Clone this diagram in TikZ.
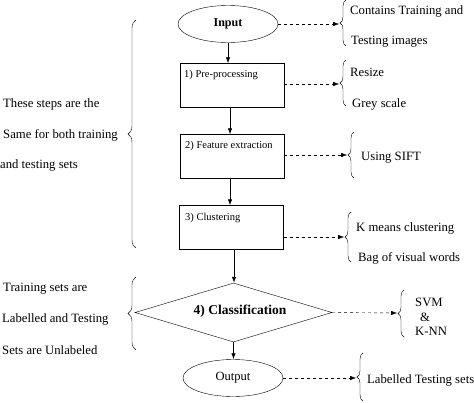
\documentclass[tikz,border=0pt]{standalone}
\usepackage{fontspec}
\setmainfont{Liberation Serif}
\usetikzlibrary{shapes.geometric,arrows.meta,decorations.pathreplacing}
\tikzset{
  flowbox/.style={draw, rectangle, minimum width=104pt, minimum height=44pt, inner sep=0pt},
  oval/.style={draw, ellipse, minimum width=100pt, minimum height=37pt, inner sep=0pt, font=\fontsize{12}{14}\selectfont\bfseries},
  boxtext/.style={anchor=west, inner sep=0pt, font=\fontsize{10.5}{12}\selectfont},
  note/.style={anchor=west, inner sep=0pt, font=\fontsize{12.7}{14}\selectfont},
  flowarrow/.style={thick, -{Latex[length=6pt,width=4.5pt]}},
  dasharrow/.style={dashed, -{Latex[length=6pt,width=4.5pt]}},
  rbrace/.style={decorate, decoration={brace, amplitude=6pt}},
  lbrace/.style={decorate, decoration={brace, amplitude=8pt}}
}
\begin{document}
\begin{tikzpicture}[x=1pt,y=-1pt]
\useasboundingbox (0,0) rectangle (474,402);
% main flow
\node[oval] (in) at (228,24) {Input};
\node[flowbox] (b1) at (232,85.5) {};
\node[boxtext] (t1) at (184,75) {1) Pre-processing};
\node[flowbox] (b2) at (232,156.5) {};
\node[boxtext] (t2) at (185,146) {2) Feature extraction};
\node[flowbox] (b3) at (231.5,227.5) {};
\node[boxtext] (t3) at (185,218) {3) Clustering};
\node[draw, diamond, minimum width=197pt, minimum height=59pt, inner sep=0pt] (cl) at (233.5,312.5) {};
\node[font=\fontsize{13.5}{15}\selectfont\bfseries, inner sep=0pt] (clt) at (240,311) {4) Classification};
\node[oval, font=\fontsize{12.5}{14}\selectfont] (out) at (233,378) {Output};
% flow arrows
\draw[flowarrow] (in.south) -- (b1.north -| in.south);
\draw[flowarrow] (230,108) coordinate (s1) -- (s1 |- b2.north);
\draw[flowarrow] (230,178) coordinate (s2) -- (s2 |- b3.north);
\draw[flowarrow] (234,249.5) coordinate (s3) -- (s3 |- cl.north);
\draw[flowarrow] (cl.south) -- (out.north -| cl.south);
% right braces
\coordinate (r1a) at (346,46); \coordinate (r1b) at (346,0);
\draw[rbrace] (r1a) -- (r1b);
\coordinate (r2a) at (346,106); \coordinate (r2b) at (346,60);
\draw[rbrace] (r2a) -- (r2b);
\coordinate (r3a) at (354,178); \coordinate (r3b) at (354,132);
\draw[rbrace] (r3a) -- (r3b);
\coordinate (r4a) at (351,262); \coordinate (r4b) at (351,212);
\draw[rbrace] (r4a) -- (r4b);
\coordinate (r5a) at (404,337); \coordinate (r5b) at (404,290);
\draw[rbrace] (r5a) -- (r5b);
\coordinate (r6a) at (363,401); \coordinate (r6b) at (363,353);
\draw[rbrace] (r6a) -- (r6b);
% dashed arrows
\coordinate (e1) at (339,24);
\coordinate (e2) at (339,84);
\coordinate (e3) at (347,155);
\coordinate (e4) at (344,237);
\coordinate (e5) at (397,313);
\coordinate (e6) at (356,378);
\draw[dasharrow] (in.east) -- (e1);
\draw[dasharrow] (b1.east |- e2) -- (e2);
\draw[dasharrow] (b2.east |- e3) -- (e3);
\draw[dasharrow] (b3.east |- e4) -- (e4);
\draw[dasharrow] (cl.east) -- (e5);
\draw[dasharrow] (out.east) -- (e6);
% right notes
\node[note] (n1a) at (350,11) {Contains Training and};
\node[note] (n1b) at (351,42) {Testing images};
\node[note] (n2a) at (350,72) {Resize};
\node[note] (n2b) at (352,104) {Grey scale};
\node[note] (n3) at (361,158) {Using SIFT};
\node[note] (n4a) at (356,228) {K means clustering};
\node[note] (n4b) at (358,258) {Bag of visual words};
\node[note] (n5a) at (415,302) {SVM};
\node[note] (n5b) at (420,317) {\&};
\node[note] (n5c) at (415,331) {K-NN};
\node[note] (n6) at (367,380) {Labelled Testing sets};
% left braces
\coordinate (l1a) at (136,248); \coordinate (l1b) at (136,20);
\draw[lbrace] (l1a) -- (l1b);
\coordinate (l2a) at (136,350); \coordinate (l2b) at (136,277);
\draw[lbrace] (l2a) -- (l2b);
% left notes
\node[note] (m1) at (3,104) {These steps are the};
\node[note] (m2) at (3,135) {Same for both training};
\node[note] (m3) at (0,165) {and testing sets};
\node[note] (m4) at (3,289) {Training sets are};
\node[note] (m5) at (2,319) {Labelled and Testing};
\node[note] (m6) at (2,350) {Sets are Unlabeled};
\end{tikzpicture}
\end{document}
